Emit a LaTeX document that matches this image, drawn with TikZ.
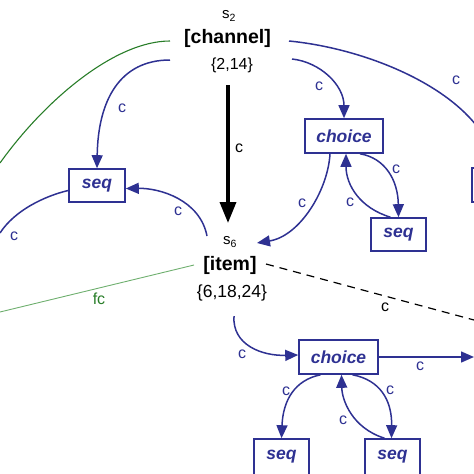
\documentclass[tikz,border=0pt]{standalone}
\usepackage{fontspec}
\setmainfont{Liberation Sans}
\usetikzlibrary{arrows.meta}
\definecolor{nblue}{RGB}{46,49,146}
\definecolor{dgreen}{RGB}{40,125,40}
\definecolor{lgreen}{RGB}{110,175,110}
\tikzset{
  box/.style={draw=nblue, line width=1.6pt, text=nblue, inner sep=0pt,
    font=\fontsize{17.5}{20}\selectfont\bfseries\itshape},
  lbl/.style={text=nblue, inner sep=0pt, font=\fontsize{16}{18}\selectfont},
  blbl/.style={text=black, inner sep=0pt, font=\fontsize{16}{18}\selectfont},
  glbl/.style={text=dgreen, inner sep=0pt, font=\fontsize{16}{18}\selectfont},
  txt/.style={inner sep=0pt, text=black},
  conn/.style={draw=nblue, line width=1.5pt, -{Triangle[length=13pt,width=11pt]}},
  plain/.style={draw=nblue, line width=1.5pt},
}
\begin{document}
\begin{tikzpicture}[x=1pt,y=-1pt]
\useasboundingbox (0,0) rectangle (474,474);
\clip (0,0) rectangle (474,474);
% texts
\node[txt, font=\fontsize{15}{17}\selectfont] (s2) at (229,16) {s\textsubscript{2}};
\node[txt, font=\fontsize{19.5}{22}\selectfont\bfseries] (chan) at (227.5,38.5) {[channel]};
\node[txt, font=\fontsize{16}{18}\selectfont] (chanset) at (232,65) {\{2,14\}};
\node[txt, font=\fontsize{15}{17}\selectfont] (s6) at (230,242) {s\textsubscript{6}};
\node[txt, font=\fontsize{19.5}{22}\selectfont\bfseries] (item) at (230,265) {[item]};
\node[txt, font=\fontsize{17.5}{19}\selectfont] (itemset) at (232,293) {\{6,18,24\}};
% boxes
\node[box, minimum width=56pt, minimum height=33pt] (seq1) at (97,185.5) {seq};
\node[box, minimum width=78pt, minimum height=34pt] (choice1) at (344,136) {choice};
\node[box, minimum width=55pt, minimum height=33pt] (seq2) at (398.5,234.5) {seq};
\node[box, minimum width=56pt, minimum height=34pt] (boxR) at (500,185) {};
\node[box, minimum width=79pt, minimum height=34pt] (choice2) at (338.5,357) {choice};
\node[box, minimum width=55pt, minimum height=36pt] (seq3) at (281.5,457) {seq};
\node[box, minimum width=55pt, minimum height=36pt] (seq4) at (392.5,457) {seq};
% free ends
\coordinate (g1) at (170,41);
\coordinate (g2) at (0,163);
\coordinate (c2a) at (170,60);
\coordinate (c6a) at (292,59);
\coordinate (c7a) at (289,41);
\coordinate (e7) at (476,125);
\coordinate (ba) at (228,85);
\coordinate (bb) at (228,223);
\coordinate (s6w) at (207,236);
\coordinate (s6e) at (257,243);
\coordinate (e5) at (0,233);
\coordinate (f1) at (194,265);
\coordinate (f2) at (0,312);
\coordinate (d1) at (266,264);
\coordinate (d2) at (474,320);
\coordinate (i16) at (234,316);
\coordinate (e18) at (474,357);
% connectors
\draw[dgreen, line width=1.1pt] (g1) .. controls (115,41) and (45,100) .. (g2);
\draw[lgreen, line width=0.9pt] (f1) -- (f2);
\draw[black, line width=1.2pt, dash pattern=on 8pt off 6pt] (d1) -- (d2);
\draw[black, line width=3.5pt, -{Triangle[length=21pt,width=16pt]}] (ba) -- (bb);
\draw[conn] (c2a) .. controls (120,60) and (98,100) .. (seq1.north);
\draw[conn] (s6w) .. controls (200,200) and (160,188) .. ([yshift=-3pt]seq1.east);
\draw[plain] ([yshift=-5pt]seq1.west) .. controls (45,196) and (15,210) .. (e5);
\draw[conn] (c6a) .. controls (320,62) and (344,85) .. (choice1.north);
\draw[plain] (c7a) .. controls (360,48) and (440,80) .. (e7);
\draw[conn] ([xshift=-14pt]choice1.south) .. controls (328,190) and (300,236) .. (s6e);
\draw[conn] ([xshift=16pt]choice1.south) .. controls (385,158) and (398,180) .. (seq2.north);
\draw[conn] ([xshift=-8pt]seq2.north) .. controls (360,208) and (346,185) .. ([xshift=2pt]choice1.south);
\draw[conn] (i16) .. controls (232,345) and (262,356) .. ([yshift=2pt]choice2.west);
\draw[conn] (choice2.east) -- (e18);
\draw[conn] ([xshift=-18pt]choice2.south) .. controls (295,380) and (283,400) .. (seq3.north);
\draw[conn] ([xshift=14pt]choice2.south) .. controls (380,380) and (392,400) .. ([xshift=-1pt]seq4.north);
\draw[conn] ([xshift=-8pt]seq4.north) .. controls (352,428) and (342,400) .. ([xshift=3pt]choice2.south);
% labels
\node[lbl] (l2) at (122,108) {c};
\node[blbl] (lb) at (239,148) {c};
\node[lbl] (l4) at (178,211) {c};
\node[lbl] (l5) at (14,236) {c};
\node[lbl] (l6) at (319,86) {c};
\node[lbl] (l7) at (456,80) {c};
\node[lbl] (l10) at (302,203) {c};
\node[lbl] (l11) at (396,169) {c};
\node[lbl] (l12) at (350,202) {c};
\node[glbl] (lfc) at (99,299) {fc};
\node[blbl] (ld) at (385,307) {c};
\node[lbl] (l16) at (242,354) {c};
\node[lbl] (l18) at (420,366) {c};
\node[lbl] (l19) at (286,391) {c};
\node[lbl] (l20) at (390,390) {c};
\node[lbl] (l21) at (343,420) {c};
\end{tikzpicture}
\end{document}
